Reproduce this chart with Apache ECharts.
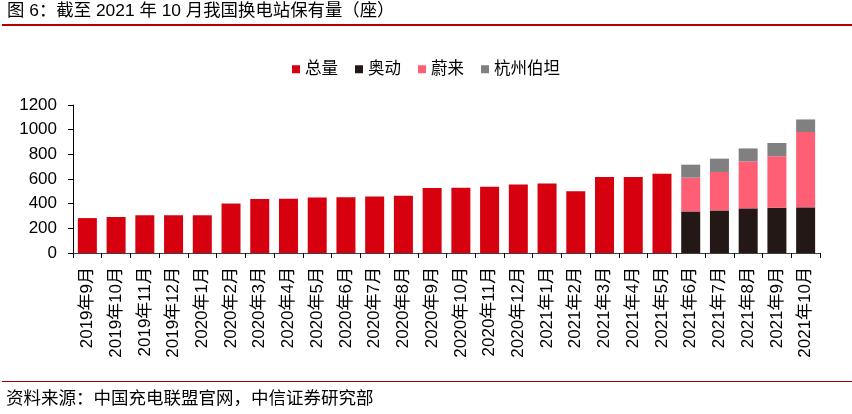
<!DOCTYPE html>
<html>
<head>
<meta charset="utf-8">
<script src="https://cdn.jsdelivr.net/npm/echarts@6/dist/echarts.min.js"></script>
<style>
html,body{margin:0;padding:0;background:#fff;}
#c{width:852px;height:414px;}
</style>
</head>
<body>
<div id="c"></div>
<script>
var categories = ['2019年9月','2019年10月','2019年11月','2019年12月','2020年1月','2020年2月','2020年3月','2020年4月','2020年5月','2020年6月','2020年7月','2020年8月','2020年9月','2020年10月','2020年11月','2020年12月','2021年1月','2021年2月','2021年3月','2021年4月','2021年5月','2021年6月','2021年7月','2021年8月','2021年9月','2021年10月'];
var totalValues = [283, 292, 306, 306, 306, 401, 437, 440, 450, 453, 458, 464, 527, 530, 537, 556, 564, 500, 616, 616, 643, '-', '-', '-', '-', '-'];
var aodongValues = ['-','-','-','-','-','-','-','-','-','-','-','-','-','-','-','-','-','-','-','-','-', 337, 345, 362, 367, 370];
var nioValues = ['-','-','-','-','-','-','-','-','-','-','-','-','-','-','-','-','-','-','-','-','-', 274, 312, 381, 417, 611];
var botanValues = ['-','-','-','-','-','-','-','-','-','-','-','-','-','-','-','-','-','-','-','-','-', 105, 108, 105, 108, 102];
var yTicks = [0, 200, 400, 600, 800, 1000, 1200];

var FONT = '"Liberation Sans", "Noto Sans CJK SC", sans-serif';
var chart = echarts.init(document.getElementById('c'), null, {renderer: 'canvas'});
function bar(name, data, color) {
  return {
    name: name, type: 'bar', stack: 'a', data: data, barWidth: 19,
    itemStyle: {color: color}
  };
}
chart.setOption({
  animation: false,
  textStyle: {fontFamily: FONT},
  legend: {
    top: 56, left: 'center',
    itemWidth: 8, itemHeight: 8, itemGap: 17, icon: 'rect',
    textStyle: {fontSize: 16.5, color: '#000', fontFamily: FONT},
    data: ['总量', '奥动', '蔚来', '杭州伯坦']
  },
  grid: {left: 73, right: 32, top: 105, bottom: 161, containLabel: false},
  xAxis: {
    type: 'category', data: categories,
    axisLine: {lineStyle: {color: '#404040', width: 1}},
    axisTick: {show: true, length: 5, lineStyle: {color: '#000'}},
    axisLabel: {rotate: 90, interval: 0, fontSize: 17, color: '#000', margin: 14, fontFamily: FONT}
  },
  yAxis: {
    type: 'value', min: yTicks[0], max: yTicks[yTicks.length - 1], interval: 200,
    axisLine: {show: true, lineStyle: {color: '#000'}},
    axisTick: {show: true, inside: false, length: 5, lineStyle: {color: '#000'}},
    splitLine: {show: false},
    axisLabel: {fontSize: 17, color: '#000', margin: 16, fontFamily: FONT,
      formatter: function (v) { return String(v); }}
  },
  series: [
    bar('总量', totalValues, '#D7000F'),
    bar('奥动', aodongValues, '#231815'),
    bar('蔚来', nioValues, '#FF5F75'),
    bar('杭州伯坦', botanValues, '#808080')
  ],
  graphic: [
    {type: 'text', left: 7, top: 3, style: {text: '图 6：截至 2021 年 10 月我国换电站保有量（座）', font: '17.4px ' + FONT, fill: '#000'}},
    {type: 'rect', shape: {x: 2, y: 24, width: 850, height: 2}, style: {fill: '#B30000'}},
    {type: 'rect', shape: {x: 2, y: 381, width: 850, height: 1}, style: {fill: '#A00000'}},
    {type: 'text', left: 6, top: 390, style: {text: '资料来源：中国充电联盟官网，中信证券研究部', font: '17.5px ' + FONT, fill: '#000'}}
  ]
});
</script>
</body>
</html>
